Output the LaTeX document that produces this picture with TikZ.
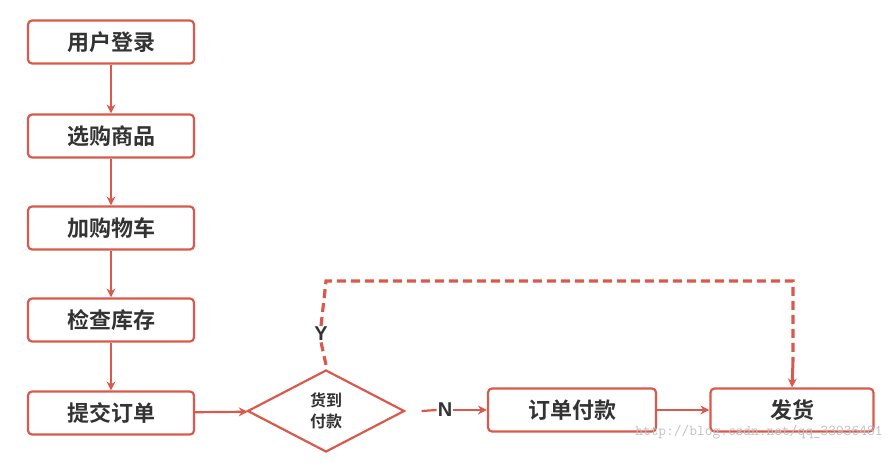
\documentclass[tikz,border=0pt]{standalone}
\usepackage{fontspec}
\setmainfont{Liberation Sans}
\newfontfamily\cjk[BoldFont=Noto Sans CJK SC Bold]{Noto Sans CJK SC}
\usetikzlibrary{shapes.geometric,arrows.meta}
\definecolor{rd}{HTML}{D95A4C}
\definecolor{tx}{HTML}{333333}
\begin{document}
\begin{tikzpicture}[x=1pt,y=-1pt,
  box/.style={draw=rd,line width=2.2pt,rounded corners=4pt,fill=white,minimum width=166pt,minimum height=43pt,inner sep=0pt,font=\cjk\bfseries\fontsize{22}{24}\selectfont,text=tx},
  dia/.style={draw=rd,line width=2.2pt,diamond,fill=white,minimum width=157pt,minimum height=82pt,aspect=1.9,inner sep=0pt,font=\cjk\bfseries\fontsize{16}{21}\selectfont,text=tx,align=center},
  arr/.style={draw=rd,line width=2.2pt,-{Stealth[length=9pt,width=9pt,inset=3pt]}},
  dsh/.style={draw=rd,line width=3.2pt,dash pattern=on 9pt off 5pt},
  lab/.style={font=\bfseries\fontsize{20}{22}\selectfont,text=tx,inner sep=1pt}]
\useasboundingbox (0,0) rectangle (896,467);
\node[box] (a) at (111,42) {用户登录};
\node[box] (b) at (111,136) {选购商品};
\node[box] (c) at (111,228) {加购物车};
\node[box] (d) at (111,320) {检查库存};
\node[box] (e) at (111,413) {提交订单};
\node[dia] (f) at (326,411) {货到\\付款};
\node[box,minimum width=168pt] (g) at (572,410) {订单付款};
\node[box,minimum width=163pt] (h) at (792,410) {发货};
\draw[arr] (a) -- (b);
\draw[arr] (b) -- (c);
\draw[arr] (c) -- (d);
\draw[arr] (d) -- (e);
\draw[arr] (e) -- (f);
\node[lab] (n) at (445,410) {N};
\draw[draw=rd,line width=2.2pt] (f.east) ++(16,0) coordinate (n0) -- (n.west);
\draw[arr] (n.east) -- (g);
\draw[arr] (g) -- (h);
\node[lab] (y) at (321,334) {Y};
\coordinate (c1) at (326,281);
\coordinate (c2) at (793,281);
\draw[dsh] (f.north) ++(0,-4) -- (y.south);
\draw[dsh] (y.north) -- (c1) -- (c2) -- ++(0,80) coordinate (c3);
\draw[arr,line width=3pt] (c3) -- (h.north);
\node[font=\fontsize{15}{16}\selectfont\ttfamily,text=black!25,anchor=east] (w) at (886,432) {http://blog.csdn.net/qq\_33936481};
\end{tikzpicture}
\end{document}
